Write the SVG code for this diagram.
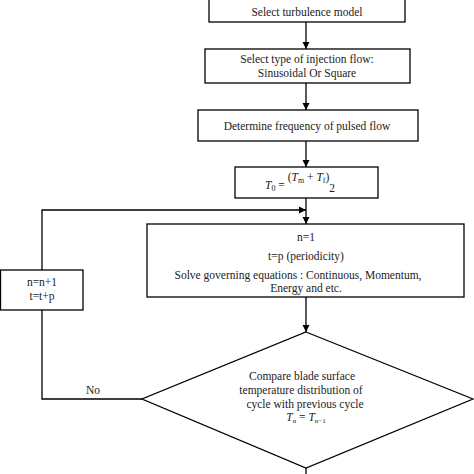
<svg xmlns="http://www.w3.org/2000/svg" width="474" height="474" viewBox="0 0 474 474">
<style>
.box{fill:#fff;stroke:#000;stroke-width:1.3}
.ln{fill:none;stroke:#000;stroke-width:1.3}
text{font-family:"Liberation Serif","Times New Roman",serif;font-size:11.5px;fill:#222;text-anchor:middle}
.it{font-style:italic}
</style>
<defs>
<marker id="ah" markerWidth="8" markerHeight="8" refX="7" refY="4" orient="auto" markerUnits="userSpaceOnUse">
<path d="M0,0.5 L7,4 L0,7.5 Z" fill="#000"/>
</marker>
</defs>
<rect width="474" height="474" fill="#fff"/>
<g id="connectors">
<line class="ln" x1="306" y1="22" x2="306" y2="49" marker-end="url(#ah)"/>
<line class="ln" x1="306" y1="83" x2="306" y2="110" marker-end="url(#ah)"/>
<line class="ln" x1="306" y1="141" x2="306" y2="167" marker-end="url(#ah)"/>
<line class="ln" x1="306" y1="198" x2="306" y2="224" marker-end="url(#ah)"/>
<polyline class="ln" points="42,270 42,210 306,210" marker-end="url(#ah)"/>
<line class="ln" x1="306" y1="297" x2="306" y2="332" marker-end="url(#ah)"/>
<polyline class="ln" points="142,399 42,399 42,310"/>
<line class="ln" x1="306" y1="468" x2="306" y2="474"/>
<text x="93" y="394">No</text>
</g>
<g id="n1">
<rect class="box" x="209" y="-10" width="196" height="32"/>
<text x="307" y="16">Select turbulence model</text>
</g>
<g id="n2">
<rect class="box" x="205" y="49" width="205" height="34"/>
<text x="307" y="63">Select type of injection flow:</text>
<text x="307" y="77">Sinusoidal Or Square</text>
</g>
<g id="n3">
<rect class="box" x="198" y="110" width="220" height="31"/>
<text x="307" y="130">Determine frequency of pulsed flow</text>
</g>
<g id="n4">
<rect class="box" x="235" y="167" width="143" height="31"/>
<text x="276" y="189" style="text-anchor:start;font-size:11.5px"><tspan x="265" class="it">T</tspan><tspan font-size="8" dy="2">0</tspan><tspan dy="-2"> = </tspan><tspan dy="-8">(</tspan><tspan class="it">T</tspan><tspan font-size="8" dy="2">m</tspan><tspan dy="-2"> + </tspan><tspan class="it">T</tspan><tspan font-size="8" dy="2">f</tspan><tspan dy="-2">)</tspan><tspan dy="11">2</tspan></text>
</g>
<g id="n5">
<rect class="box" x="147" y="224" width="317" height="73"/>
<text x="306" y="241">n=1</text>
<text x="306" y="260">t=p (periodicity)</text>
<text x="298" y="279">Solve governing equations : Continuous, Momentum,</text>
<text x="306" y="292">Energy and etc.</text>
</g>
<g id="n6">
<rect class="box" x="0.5" y="270" width="82.5" height="40"/>
<text x="42" y="286">n=n+1</text>
<text x="42" y="300">t=t+p</text>
</g>
<g id="n7">
<polygon class="box" points="306,332 473,399 306,468 142,399"/>
<text x="302" y="380">Compare blade surface</text>
<text x="301" y="394">temperature distribution of</text>
<text x="305" y="408">cycle with previous cycle</text>
<text x="306" y="421"><tspan class="it">T</tspan><tspan font-size="7" dy="2">n</tspan><tspan dy="-2"> = </tspan><tspan class="it">T</tspan><tspan font-size="7" dy="2">n−1</tspan></text>
</g>
</svg>
